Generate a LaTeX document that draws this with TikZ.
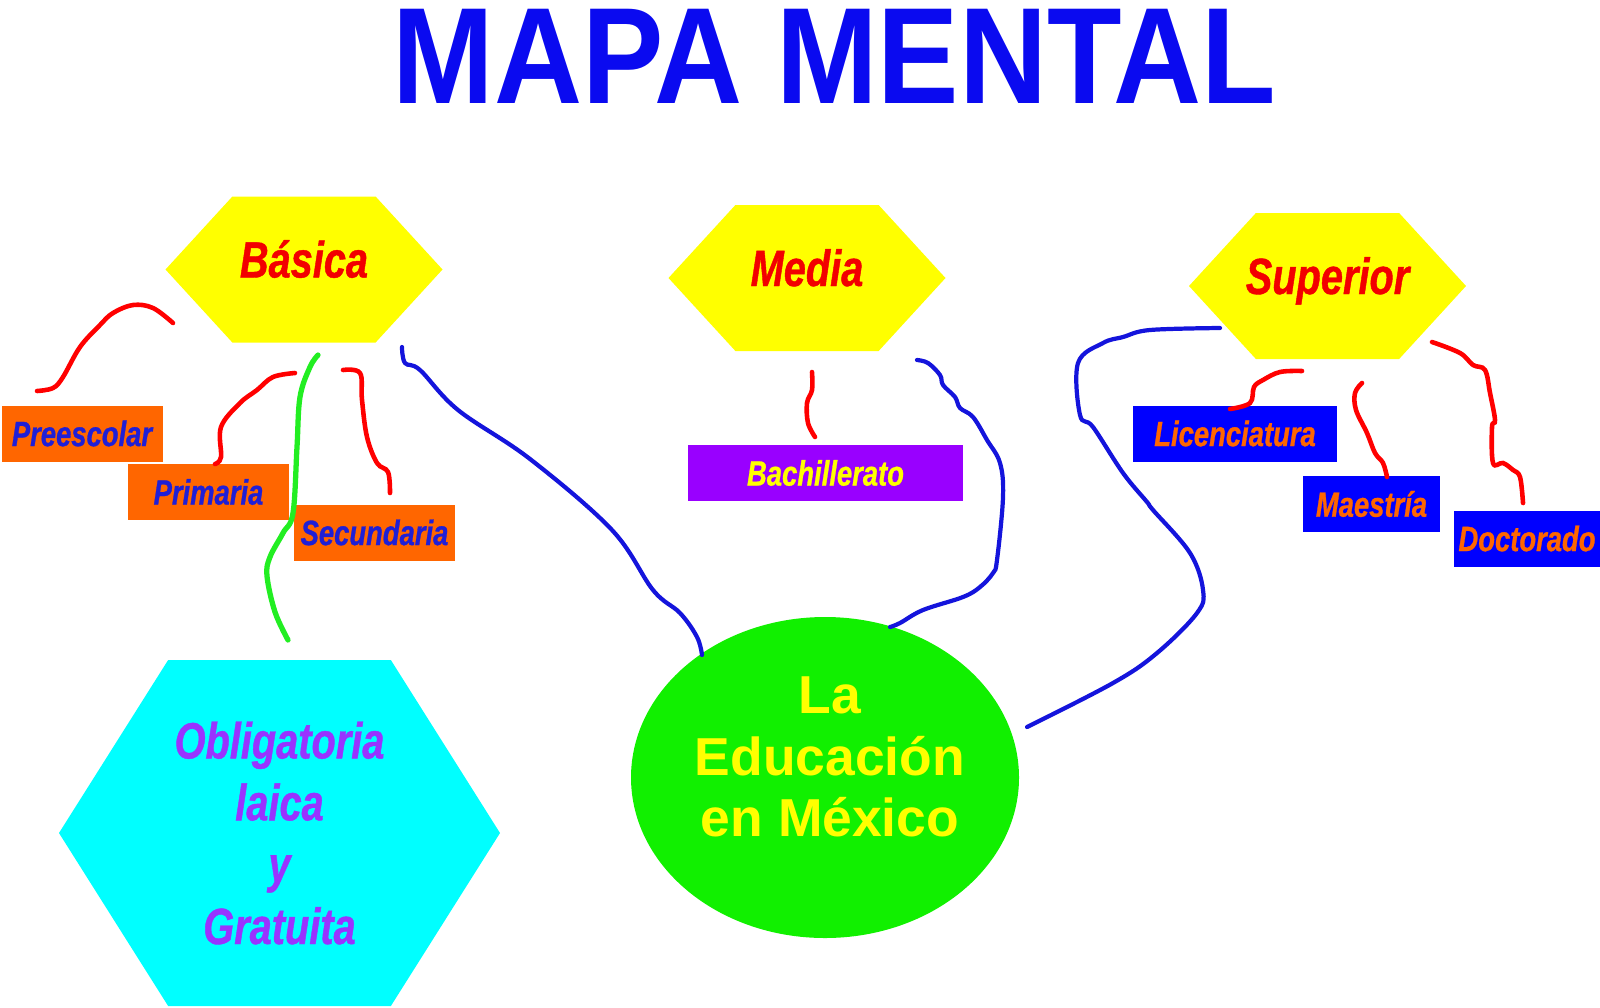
\documentclass[tikz,border=0pt]{standalone}
\usepackage{fontspec}
\usepackage{tikz}
\usetikzlibrary{shapes.geometric, shapes.symbols, positioning}
\newfontfamily\brush{Liberation Sans}[FakeStretch=0.78, FakeBold=0.8]
\newfontfamily\titlefont{Liberation Sans}[FakeStretch=0.89]
\newfontfamily\edufont{Liberation Sans}
\definecolor{hexyellow}{HTML}{FFFF00}
\definecolor{txtred}{HTML}{F20000}
\definecolor{boxorange}{HTML}{FF6600}
\definecolor{txtblue}{HTML}{1F1FD6}
\definecolor{boxblue}{HTML}{0000FF}
\definecolor{boxpurple}{HTML}{9900FF}
\definecolor{oblcyan}{HTML}{00FFFF}
\definecolor{txtpurple}{HTML}{9933FF}
\definecolor{edugreen}{HTML}{11F000}
\definecolor{titleblue}{HTML}{0A0AF0}
\definecolor{linered}{HTML}{FF0000}
\definecolor{lineblue}{HTML}{1414DC}
\definecolor{linegreen}{HTML}{22EE22}

\begin{document}
\begin{tikzpicture}[
    hexa/.style={signal, signal to=east and west, inner sep=0pt},
    yellowhex/.style={hexa, signal pointer angle=95, fill=hexyellow, text=txtred,
        minimum width=2.77cm, minimum height=1.46cm, text height=0.37cm, text depth=0.21cm,
        font=\brush\bfseries\itshape\fontsize{14.5}{17}\selectfont},
    orangebox/.style={rectangle, fill=boxorange, text=txtblue, inner sep=0pt,
        minimum width=1.61cm, minimum height=0.56cm,
        font=\brush\bfseries\itshape\fontsize{10}{12}\selectfont},
    bluebox/.style={orangebox, fill=boxblue, text=boxorange},
    redline/.style={draw=linered, line width=1.3pt, line cap=round, smooth, tension=0.6},
    blueline/.style={draw=lineblue, line width=1.2pt, line cap=round, smooth, tension=0.6},
    greenline/.style={draw=linegreen, line width=1.5pt, line cap=round, smooth, tension=0.6}
]
    \useasboundingbox (0,0) rectangle (16,-10.07);

    % title
    \node[anchor=base, inner sep=0pt, text=titleblue, font=\titlefont\bfseries\fontsize{39}{44}\selectfont] (title) at (8.34,-1.03) {MAPA MENTAL};

    % levels
    \node[yellowhex] (bas) at (3.04,-2.695) {Básica};
    \node[yellowhex] (med) at (8.07,-2.78) {Media};
    \node[yellowhex, inner xsep=-2.2mm] (sup) at (13.275,-2.86) {Superior};

    % sub levels
    \node[orangebox] (pre) at (0.82,-4.335) {Preescolar};
    \node[orangebox] (pri) at (2.085,-4.92) {Primaria};
    \node[orangebox] (sec) at (3.745,-5.325) {Secundaria};
    \node[orangebox, fill=boxpurple, text=hexyellow, minimum width=2.75cm] (bach) at (8.255,-4.73) {Bachillerato};
    \node[bluebox, minimum width=2.04cm] (lic) at (12.35,-4.335) {Licenciatura};
    \node[bluebox, minimum width=1.37cm] (mae) at (13.715,-5.04) {Maestría};
    \node[bluebox, minimum width=1.46cm] (doc) at (15.27,-5.385) {Doctorado};

    % obligatoria and centre
    \node[hexa, signal pointer angle=115.5, fill=oblcyan, text=txtpurple, align=center,
        minimum width=4.41cm, minimum height=3.46cm,
        font=\brush\bfseries\itshape\fontsize{14.5}{17.6}\selectfont] (obl) at (2.795,-8.33) {Obligatoria\\laica\\y\\Gratuita};
    \node[ellipse, fill=edugreen, minimum width=3.88cm, minimum height=3.21cm, inner sep=0pt] (edu) at (8.25,-7.775) {};
    \node[align=center, text=hexyellow, font=\edufont\bfseries\fontsize{15.2}{17.6}\selectfont] (edutxt) at (8.30,-7.57) {La\\Educación\\en México};

    % connector ends
    \coordinate (pre-end) at (0.37,-3.91);
    \coordinate (bas-pre) at (1.73,-3.23);
    \coordinate (pri-end) at (2.15,-4.64);
    \coordinate (bas-pri) at (2.95,-3.73);
    \coordinate (sec-end) at (3.90,-4.93);
    \coordinate (bas-sec) at (3.43,-3.70);
    \coordinate (bas-obl) at (3.18,-3.55);
    \coordinate (obl-end) at (2.88,-6.40);
    \coordinate (bas-edu) at (4.02,-3.47);
    \coordinate (edu-bas) at (7.02,-6.55);
    \coordinate (med-bach) at (8.12,-3.72);
    \coordinate (bach-end) at (8.15,-4.37);
    \coordinate (med-edu) at (9.17,-3.60);
    \coordinate (edu-med) at (8.90,-6.27);
    \coordinate (sup-edu) at (12.20,-3.28);
    \coordinate (edu-sup) at (10.27,-7.27);
    \coordinate (sup-lic) at (13.02,-3.71);
    \coordinate (lic-end) at (12.30,-4.09);
    \coordinate (sup-mae) at (13.62,-3.83);
    \coordinate (mae-end) at (13.87,-4.77);
    \coordinate (sup-doc) at (14.32,-3.42);
    \coordinate (doc-end) at (15.23,-5.03);

    % basica branches
    \draw[redline] plot coordinates {(pre-end) (0.53,-3.88) (0.63,-3.77) (0.80,-3.47) (1.00,-3.25) (1.13,-3.13) (1.33,-3.05) (1.53,-3.08) (bas-pre)};
    \draw[redline] plot coordinates {(pri-end) (2.21,-4.57) (2.21,-4.27) (2.40,-4.03) (2.57,-3.90) (2.73,-3.77) (bas-pri)};
    \draw[redline] plot coordinates {(bas-sec) (3.60,-3.73) (3.62,-4.00) (3.67,-4.37) (3.77,-4.63) (3.88,-4.72) (sec-end)};
    \draw[greenline] plot coordinates {(bas-obl) (3.10,-3.67) (3.00,-3.97) (2.97,-4.47) (2.93,-5.13) (2.83,-5.33) (2.70,-5.57) (2.67,-5.76) (2.75,-6.12) (obl-end)};
    \draw[blueline] plot coordinates {(bas-edu) (4.05,-3.63) (4.20,-3.70) (4.58,-4.10) (5.30,-4.59) (6.12,-5.30) (6.53,-5.90) (6.80,-6.13) (6.97,-6.37) (edu-bas)};

    % media branches
    \draw[redline] plot coordinates {(med-bach) (8.12,-3.90) (8.07,-4.03) (8.08,-4.23) (bach-end)};
    \draw[blueline] plot coordinates {(med-edu) (9.28,-3.63) (9.40,-3.75) (9.43,-3.85) (9.55,-3.97) (9.60,-4.08) (9.73,-4.17) (9.87,-4.40) (10.00,-4.63) (10.03,-4.97) (9.97,-5.60) (9.93,-5.73) (9.80,-5.87) (9.63,-5.97) (9.23,-6.10) (9.00,-6.23) (edu-med)};

    % superior branches
    \draw[blueline] plot coordinates {(sup-edu) (11.50,-3.30) (11.23,-3.37) (11.03,-3.43) (10.78,-3.63) (10.80,-4.15) (10.93,-4.27) (11.23,-4.73) (11.47,-5.02) (11.53,-5.10) (11.90,-5.53) (12.03,-5.90) (11.97,-6.13) (11.57,-6.53) (11.13,-6.83) (edu-sup)};
    \draw[redline] plot coordinates {(lic-end) (12.50,-4.03) (12.54,-3.87) (12.63,-3.80) (12.80,-3.72) (sup-lic)};
    \draw[redline] plot coordinates {(sup-mae) (13.55,-3.93) (13.56,-4.10) (13.67,-4.33) (13.75,-4.53) (13.83,-4.63) (mae-end)};
    \draw[redline] plot coordinates {(sup-doc) (14.60,-3.53) (14.73,-3.65) (14.85,-3.70) (14.90,-3.93) (14.95,-4.20) (14.92,-4.27) (14.93,-4.63) (15.03,-4.63) (15.13,-4.70) (15.20,-4.77) (doc-end)};
\end{tikzpicture}
\end{document}
